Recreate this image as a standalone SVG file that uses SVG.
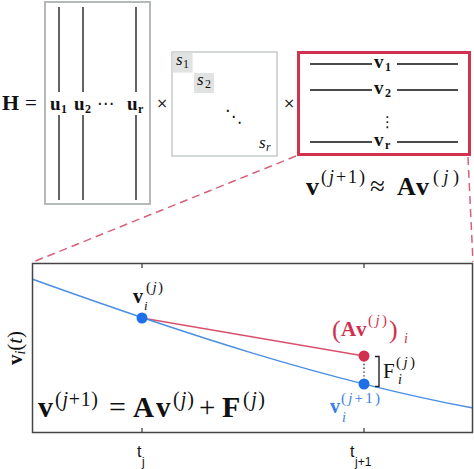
<svg xmlns="http://www.w3.org/2000/svg" width="474" height="469" viewBox="0 0 474 469">
<style>
.m{font-family:"Liberation Serif","DejaVu Serif",serif;fill:#111}
.b{font-weight:bold}
.it{font-style:italic}
.sy{font-family:"DejaVu Sans",sans-serif;fill:#111}
.sans{font-family:"Liberation Sans",Arial,sans-serif;fill:#111}
.ln{stroke:#111;stroke-width:1.3;fill:none}
.red{fill:#d2304f}
.blue{fill:#3a7fe6}
</style>
<rect width="474" height="469" fill="#fff"/>

<g id="H-label">
<text class="m b" x="2" y="110" font-size="22">H</text>
<text class="m" x="25" y="110" font-size="21">=</text>
</g>

<g id="U-matrix">
<rect x="45" y="2" width="105" height="202" fill="none" stroke="#b5bab7" stroke-width="2"/>
<path class="ln" d="M59,7V92M59,115V200M83,7V92M83,115V200M136,7V92M136,115V200"/>
<text class="m b" x="50" y="110" font-size="19">u</text>
<text class="m b" x="61" y="113" font-size="12">1</text>
<text class="m b" x="74" y="110" font-size="19">u</text>
<text class="m b" x="85" y="113" font-size="12">2</text>
<text class="sy" x="97" y="109" font-size="17">⋯</text>
<text class="m b" x="127" y="110" font-size="19">u</text>
<text class="m b" x="138" y="113" font-size="12">r</text>
</g>

<g id="times1"><text class="sy" x="162" y="108" font-size="14" text-anchor="middle">×</text></g>

<g id="S-matrix">
<rect x="172" y="52" width="105" height="104" fill="none" stroke="#b8bcbc" stroke-width="1.2"/>
<rect x="172.6" y="52.6" width="20" height="20" fill="#e1e3e3"/>
<rect x="194" y="73" width="20" height="20" fill="#e1e3e3"/>
<text class="m it" x="176" y="65" font-size="17">s</text>
<text class="m" x="183" y="68" font-size="12">1</text>
<text class="m it" x="197" y="85" font-size="17">s</text>
<text class="m" x="205" y="88" font-size="12">2</text>
<text class="sy" x="225" y="122" font-size="17">⋱</text>
<text class="m it" x="259" y="148" font-size="17">s</text>
<text class="m it" x="266" y="151" font-size="12">r</text>
</g>

<g id="times2"><text class="sy" x="289" y="108" font-size="14" text-anchor="middle">×</text></g>

<g id="V-matrix">
<rect x="298.5" y="52.5" width="171" height="102" fill="none" stroke="#d0324f" stroke-width="3"/>
<path class="ln" d="M310,64H372M397,64H458M310,90H372M397,90H458M310,142H372M397,142H458"/>
<text class="m b" x="374" y="68" font-size="19">v</text>
<text class="m b" x="385" y="71" font-size="12">1</text>
<text class="m b" x="374" y="94" font-size="19">v</text>
<text class="m b" x="385" y="97" font-size="12">2</text>
<text class="sy" x="380" y="127" font-size="15">⋮</text>
<text class="m b" x="374" y="146" font-size="19">v</text>
<text class="m b" x="385" y="149" font-size="12">r</text>
</g>

<g id="approx-eq">
<text class="m b" x="306" y="195" font-size="26">v</text>
<text class="m" x="321" y="183" font-size="18" textLength="44" lengthAdjust="spacing">(<tspan class="it">j</tspan>+1)</text>
<text class="m" x="370" y="195" font-size="27">≈</text>
<text class="m b" x="397" y="195" font-size="26">A</text>
<text class="m b" x="416" y="195" font-size="26">v</text>
<text class="m" x="433" y="183" font-size="18" textLength="26" lengthAdjust="spacing">(<tspan class="it">j</tspan>)</text>
</g>

<g id="connectors">
<path d="M296,156L33,262M468,157L473,262" stroke="#d9607a" stroke-width="1.5" stroke-dasharray="8 5" fill="none"/>
<path d="M142,318L364,356" stroke="#d9506e" stroke-width="1.4" fill="none"/>
<path d="M32,279C179,332 326,380.5 473,408" stroke="#4a8fe3" stroke-width="1.4" fill="none"/>
<path d="M364,360V381" stroke="#222" stroke-width="1.3" stroke-dasharray="1.4 2.4" fill="none"/>
<path d="M375,356.5H379V386.5H375" stroke="#222" stroke-width="1.4" fill="none"/>
</g>

<g id="plot">
<rect x="32.5" y="263.5" width="440" height="169" fill="none" stroke="#444" stroke-width="1.5"/>
<path d="M142,264V268M364,264V268M142,432V428M364,432V428" stroke="#444" stroke-width="1.3"/>
<text class="sans" x="137" y="457" font-size="16">t</text>
<text class="sans" x="142" y="466" font-size="12">j</text>
<text class="sans" x="350" y="457" font-size="16">t</text>
<text class="sans" x="355" y="466" font-size="12">j+1</text>
<text class="m" transform="translate(22,348) rotate(-90)" font-size="21" text-anchor="middle"><tspan class="b">v</tspan><tspan class="it" font-size="14" dy="3">i</tspan><tspan dy="-3">(<tspan class="it">t</tspan>)</tspan></text>
</g>

<g id="node-vj">
<circle cx="142" cy="318" r="5.5" fill="#1e6fe8"/>
<text class="m b" x="133" y="303" font-size="20">v</text>
<text class="m it" x="144" y="310" font-size="13">i</text>
<text class="m" x="146" y="292" font-size="15" textLength="17" lengthAdjust="spacing">(<tspan class="it">j</tspan>)</text>
</g>

<g id="node-Av">
<circle cx="364" cy="356" r="5.5" fill="#d2304f"/>
<text class="m red" x="332" y="338" font-size="26">(</text>
<text class="m b red" x="341" y="336" font-size="21">A</text>
<text class="m b red" x="356" y="336" font-size="21">v</text>
<text class="m red" x="368" y="325" font-size="15" textLength="19" lengthAdjust="spacing">(<tspan class="it">j</tspan>)</text>
<text class="m red" x="389" y="338" font-size="26">)</text>
<text class="m it red" x="404" y="343" font-size="14">i</text>
</g>

<g id="F-label">
<text class="m" x="383" y="378" font-size="21">F</text>
<text class="m" x="396" y="367" font-size="15" textLength="19" lengthAdjust="spacing">(<tspan class="it">j</tspan>)</text>
<text class="m it" x="398" y="384" font-size="14">i</text>
</g>

<g id="node-vj1">
<circle cx="364" cy="384" r="5.5" fill="#1e6fe8"/>
<text class="m b blue" x="330" y="413" font-size="20">v</text>
<text class="m blue" x="341" y="403" font-size="15" textLength="39" lengthAdjust="spacing">(<tspan class="it">j</tspan>+1)</text>
<text class="m it blue" x="342" y="422" font-size="14">i</text>
</g>

<g id="update-eq">
<text class="m b" x="38" y="417" font-size="30">v</text>
<text class="m" x="55" y="406" font-size="20" textLength="43" lengthAdjust="spacing">(<tspan class="it">j</tspan>+1)</text>
<text class="m" x="109" y="417" font-size="30">=</text>
<text class="m b" x="133" y="417" font-size="29">A</text>
<text class="m b" x="156" y="417" font-size="29">v</text>
<text class="m" x="173" y="406" font-size="20" textLength="21" lengthAdjust="spacing">(<tspan class="it">j</tspan>)</text>
<text class="m" x="199" y="417" font-size="29">+</text>
<text class="m b" x="222" y="417" font-size="30">F</text>
<text class="m" x="243" y="406" font-size="20" textLength="22" lengthAdjust="spacing">(<tspan class="it">j</tspan>)</text>
</g>
</svg>
